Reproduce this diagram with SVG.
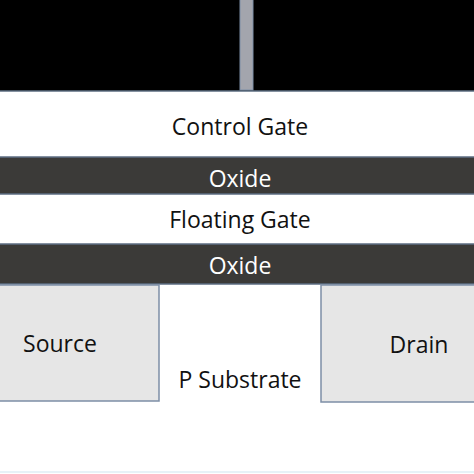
<svg xmlns="http://www.w3.org/2000/svg" width="474" height="474" viewBox="0 0 474 474">
<style>
.lbl{font-family:"Open Sans","Liberation Sans",sans-serif;font-size:23px;text-anchor:middle;fill:#111}
.lw{fill:#ffffff}
.ox{fill:#3b3a38;stroke:#5d6e82;stroke-width:1.5}
.sd{fill:#e6e6e6;stroke:#7d8ea6;stroke-width:1.5}
</style>
<rect x="0" y="0" width="474" height="474" fill="#ffffff"/>
<g id="top-metal">
<rect x="0" y="0" width="474" height="91" fill="#000000"/>
<rect x="240" y="-1" width="13" height="91" fill="#a3a5ad" stroke="#7d8ea6" stroke-width="1"/>
<line x1="0" y1="91" x2="474" y2="91" stroke="#5d6e82" stroke-width="1.5"/>
</g>
<g id="control-gate">
<rect x="-1" y="92" width="476" height="65" fill="#ffffff"/>
<text class="lbl" x="240" y="135">Control Gate</text>
</g>
<g id="oxide-1">
<rect class="ox" x="-2" y="157" width="478" height="37"/>
<text class="lbl lw" x="240" y="187">Oxide</text>
</g>
<g id="floating-gate">
<text class="lbl" x="240" y="228">Floating Gate</text>
</g>
<g id="oxide-2">
<rect class="ox" x="-2" y="244" width="478" height="40"/>
<text class="lbl lw" x="240" y="274">Oxide</text>
</g>
<g id="source">
<rect class="sd" x="-2" y="285" width="161" height="116"/>
<text class="lbl" x="60" y="352">Source</text>
</g>
<g id="drain">
<rect class="sd" x="321" y="285" width="155" height="117"/>
<text class="lbl" x="419" y="353">Drain</text>
</g>
<g id="substrate">
<text class="lbl" x="240" y="388">P Substrate</text>
<line x1="0" y1="472" x2="474" y2="472" stroke="#dfeef4" stroke-width="1.5"/>
</g>
<g id="connectors"></g>
</svg>
